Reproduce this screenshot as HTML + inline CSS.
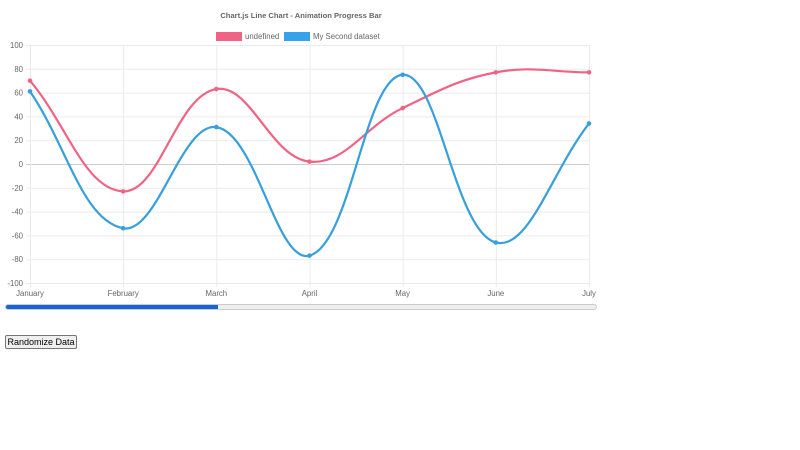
<!DOCTYPE html>
<html><head><style>
body{margin:0;background:#fff;width:800px;height:450px;overflow:hidden;font-family:"Liberation Sans",sans-serif;}
svg text{font-family:"Liberation Sans",sans-serif;}
#bar{position:absolute;left:5px;top:304px;width:590px;height:4px;border:1px solid #ccc;border-radius:3px;background:#eee;overflow:hidden}
#fill{width:212px;height:100%;background:#1565d8}
#btn{position:absolute;left:5px;top:335px;width:70px;height:12px;font:9px "Liberation Sans",sans-serif;background:#efefef;border:1px solid #767676;border-radius:2px;line-height:12px;white-space:nowrap;color:#000;text-align:center}
</style></head><body>
<svg id="s" width="800" height="300" style="position:absolute;left:0;top:0">
<text x="301" y="18" text-anchor="middle" font-size="7.6" font-weight="bold" fill="#666">Chart.js Line Chart - Animation Progress Bar</text>
<rect x="216" y="32" width="26" height="9" fill="#f06384"/>
<text x="245" y="39" font-size="7.8" fill="#666">undefined</text>
<rect x="284" y="32" width="26" height="9" fill="#36a2eb"/>
<text x="313" y="39" font-size="7.8" fill="#666">My Second dataset</text>
<g id="grid"></g>
</svg>
<div id="bar"><div id="fill"></div></div>
<div id="btn">Randomize Data</div>
<script>
var s=document.getElementById('grid'),ns='http://www.w3.org/2000/svg';
function el(t,a,txt){var e=document.createElementNS(ns,t);for(var k in a)e.setAttribute(k,a[k]);if(txt)e.textContent=txt;s.appendChild(e);return e;}
var x0=30,x1=589,y0=45,y1=283;
function X(i){return x0+(x1-x0)*i/6}
function Y(v){return y0+(100-v)*(y1-y0)/200}
for(var v=-100;v<=100;v+=20){el('line',{x1:x0-4,x2:x1,y1:Y(v)+.5,y2:Y(v)+.5,stroke:v==0?'#ccc':'#ebebeb','stroke-width':1});
el('text',{x:23,y:Y(v)+3,'text-anchor':'end','font-size':'7.8',fill:'#666'},''+v);}
var L=['January','February','March','April','May','June','July'];
for(var i=0;i<7;i++){el('line',{x1:X(i)+.5,x2:X(i)+.5,y1:y0,y2:y1+4,stroke:'#ebebeb'});
el('text',{x:X(i),y:296,'text-anchor':'middle','font-size':'7.8',fill:'#666'},L[i]);}
function path(d,c){var p=d.map(function(v,i){return[X(i),Y(v)]});var t=0.4,cps=[];
for(var i=0;i<p.length;i++){var pr=p[Math.max(i-1,0)],cu=p[i],nx=p[Math.min(i+1,p.length-1)];
var d01=Math.hypot(cu[0]-pr[0],cu[1]-pr[1]),d12=Math.hypot(nx[0]-cu[0],nx[1]-cu[1]);
var fa=d01/(d01+d12)||0,fb=d12/(d01+d12)||0;fa*=t;fb*=t;
cps.push([[cu[0]-fa*(nx[0]-pr[0]),cu[1]-fa*(nx[1]-pr[1])],[cu[0]+fb*(nx[0]-pr[0]),cu[1]+fb*(nx[1]-pr[1])]]);}
var s2='M'+p[0];for(var i=1;i<p.length;i++){s2+='C'+cps[i-1][1]+' '+cps[i][0]+' '+p[i];}
el('path',{d:s2,fill:'none',stroke:c,'stroke-width':2.2});
p.forEach(function(q){el('circle',{cx:q[0],cy:q[1],r:2.3,fill:c});});}
path([70,-23,63,2,47,77,77],'#f06384');
path([61,-54,31,-77,75,-66,34],'#369fdc');
</script>
</body></html>
